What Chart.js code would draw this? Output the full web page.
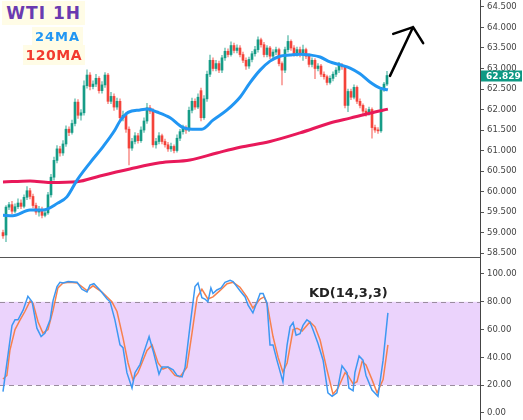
<!DOCTYPE html>
<html>
<head>
<meta charset="utf-8">
<script src="https://cdn.jsdelivr.net/npm/chart.js@4.4.0/dist/chart.umd.min.js"></script>
<style>
  html, body { margin: 0; padding: 0; background: #fff; }
  #wrap { position: relative; width: 523px; height: 420px; overflow: hidden; font-family: 'DejaVu Sans', sans-serif; }
  #top { position: absolute; left: 0; top: 0; width: 523px; height: 258px; }
  #bottom { position: absolute; left: 0; top: 258px; width: 523px; height: 162px; }
  .tag { position: absolute; background: #FFFCE6; font-weight: bold; white-space: nowrap; }
  #t1 { right: 438px; top: 1px; padding: 2px 4px; font-size: 17px; line-height: 20px; letter-spacing: 1px; color: #6A3AB0; }
  #t2 { right: 440px; top: 27px; padding: 2px 3px; font-size: 13px; line-height: 15px; letter-spacing: 1px; color: #2196F3; }
  #t3 { right: 438px; top: 45px; padding: 2px 3px; font-size: 14px; line-height: 16px; letter-spacing: 0.5px; color: #F23B2E; }
  #kd { position: absolute; left: 309px; top: 286px; font-size: 13px; line-height: 13px; font-weight: bold; color: #222; }
</style>
</head>
<body>
<div id="wrap">
  <div id="top"><canvas id="price"></canvas></div>
  <div id="bottom"><canvas id="osc"></canvas></div>
  <div class="tag" id="t1">WTI 1H</div>
  <div class="tag" id="t2">24MA</div>
  <div class="tag" id="t3">120MA</div>
  <div id="kd">KD(14,3,3)</div>
</div>
<script>
// hourly candles (index 0 = first bar)
const opens = [
  59.00, 58.94, 59.62, 59.68, 59.52, 59.63, 59.72, 59.64, 59.86, 60.02,
  59.88, 59.66, 59.50, 59.56, 59.42, 59.48, 59.92, 60.35, 60.76, 61.04,
  60.94, 61.16, 61.52, 61.44, 61.66, 62.18, 61.86, 61.92, 62.58, 62.84,
  62.56, 62.62, 62.76, 62.46, 62.60, 62.84, 62.20, 62.32, 62.06, 62.20,
  61.80, 61.86, 61.52, 61.06, 61.22, 61.36, 61.24, 61.50, 61.72, 62.04,
  61.96, 61.14, 61.22, 61.36, 61.22, 61.14, 61.04, 61.10, 61.00, 61.30,
  61.46, 61.56, 61.50, 61.98, 62.20, 62.06, 62.46, 61.80, 62.26, 62.86,
  63.20, 63.00, 63.12, 62.96, 63.26, 63.42, 63.34, 63.56, 63.44, 63.50,
  63.34, 63.20, 63.06, 63.22, 63.36, 63.46, 63.70, 63.58, 63.34, 63.50,
  63.30, 63.40, 63.46, 63.12, 62.96, 63.46, 63.66, 63.50, 63.36, 63.46,
  63.34, 63.46, 63.30, 63.10, 63.20, 63.00, 63.06, 62.86, 62.80, 62.66,
  62.76, 62.86, 62.96, 63.08, 63.04, 62.10, 62.44, 62.30, 62.54, 62.20,
  62.10, 61.96, 61.90, 62.00, 61.56, 61.50, 61.48, 62.48, 62.62
];
const highs = [
  59.06, 59.66, 59.74, 59.76, 59.70, 59.82, 59.80, 59.92, 60.12, 60.08,
  59.94, 59.72, 59.64, 59.62, 59.56, 59.98, 60.42, 60.84, 61.12, 61.10,
  61.24, 61.60, 61.58, 61.74, 62.26, 62.24, 62.00, 62.70, 62.97, 62.90,
  62.70, 62.86, 62.80, 62.68, 62.90, 62.88, 62.42, 62.38, 62.28, 62.26,
  61.96, 61.92, 61.58, 61.30, 61.44, 61.42, 61.58, 61.80, 62.15, 62.10,
  62.02, 61.30, 61.44, 61.40, 61.28, 61.20, 61.18, 61.14, 61.38, 61.52,
  61.62, 61.60, 62.06, 62.28, 62.26, 62.38, 62.52, 62.34, 62.94, 63.33,
  63.26, 63.20, 63.18, 63.32, 63.50, 63.48, 63.65, 63.62, 63.58, 63.56,
  63.40, 63.26, 63.28, 63.42, 63.54, 63.77, 63.74, 63.64, 63.56, 63.54,
  63.46, 63.52, 63.50, 63.16, 63.52, 63.80, 63.70, 63.56, 63.52, 63.52,
  63.57, 63.50, 63.36, 63.26, 63.24, 63.12, 63.10, 62.92, 62.84, 62.82,
  62.92, 63.02, 63.15, 63.12, 63.08, 62.50, 62.50, 62.60, 62.58, 62.26,
  62.14, 62.02, 62.06, 62.04, 61.62, 61.56, 62.52, 62.66, 62.93
];
const lows = [
  58.86, 58.78, 59.56, 59.46, 59.48, 59.58, 59.58, 59.60, 59.80, 59.82,
  59.60, 59.44, 59.40, 59.36, 59.38, 59.44, 59.86, 60.28, 60.70, 60.86,
  60.88, 61.10, 61.36, 61.40, 61.60, 61.78, 61.74, 61.86, 62.52, 62.48,
  62.50, 62.56, 62.40, 62.40, 62.54, 62.14, 62.14, 61.98, 62.00, 61.74,
  61.72, 61.44, 60.65, 61.00, 61.16, 61.18, 61.20, 61.44, 61.66, 61.90,
  61.08, 61.06, 61.16, 61.16, 61.08, 60.98, 60.98, 60.94, 60.96, 61.24,
  61.40, 61.42, 61.46, 61.92, 62.00, 62.02, 61.72, 61.76, 62.20, 62.80,
  62.94, 62.94, 62.90, 62.90, 63.20, 63.28, 63.30, 63.38, 63.38, 63.28,
  63.14, 62.98, 63.00, 63.16, 63.30, 63.40, 63.52, 63.28, 63.28, 63.24,
  63.24, 63.34, 63.06, 62.60, 62.90, 63.40, 63.44, 63.30, 63.30, 63.28,
  63.20, 63.24, 63.04, 63.04, 62.75, 62.94, 62.80, 62.74, 62.60, 62.62,
  62.70, 62.80, 62.90, 62.98, 62.04, 61.95, 62.24, 62.26, 62.14, 62.04,
  61.85, 61.84, 61.86, 61.30, 61.44, 61.42, 61.44, 62.44, 62.58
];
const closes = [
  58.92, 59.62, 59.68, 59.52, 59.63, 59.72, 59.64, 59.86, 60.02, 59.88,
  59.66, 59.50, 59.56, 59.42, 59.48, 59.92, 60.35, 60.76, 61.04, 60.94,
  61.16, 61.52, 61.44, 61.66, 62.18, 61.86, 61.92, 62.58, 62.84, 62.56,
  62.62, 62.76, 62.46, 62.60, 62.84, 62.20, 62.32, 62.06, 62.20, 61.80,
  61.86, 61.52, 61.06, 61.22, 61.36, 61.24, 61.50, 61.72, 62.04, 61.96,
  61.14, 61.22, 61.36, 61.22, 61.14, 61.04, 61.10, 61.00, 61.30, 61.46,
  61.56, 61.50, 61.98, 62.20, 62.06, 62.30, 61.80, 62.26, 62.86, 63.20,
  63.00, 63.12, 62.96, 63.26, 63.42, 63.34, 63.56, 63.44, 63.50, 63.34,
  63.20, 63.06, 63.22, 63.36, 63.46, 63.70, 63.58, 63.34, 63.50, 63.30,
  63.40, 63.46, 63.12, 62.96, 63.46, 63.66, 63.50, 63.36, 63.46, 63.34,
  63.46, 63.30, 63.10, 63.20, 63.00, 63.06, 62.86, 62.80, 62.66, 62.76,
  62.86, 62.96, 63.08, 63.04, 62.10, 62.44, 62.30, 62.54, 62.20, 62.10,
  61.96, 61.90, 62.00, 61.56, 61.50, 61.48, 62.48, 62.62, 62.829
];

// moving averages, sampled at bar positions
const ma24X = [0, 3.3, 9, 13.3, 18.3, 21.3, 24.7, 29, 33.3, 37.3, 39, 41.7, 45.7, 48.3, 51.3, 55.7,
  59.7, 63, 66.3, 70, 74.7, 79, 82.3, 85.7, 89, 92.3, 95.7, 99, 102.3, 105.7, 109, 112.3, 115.7,
  119, 122.3, 125.7, 128.3];
const ma24Y = [59.42, 59.41, 59.55, 59.55, 59.72, 59.87, 60.28, 60.70, 61.09, 61.50, 61.72, 61.93,
  61.99, 62.01, 61.94, 61.80, 61.57, 61.52, 61.52, 61.74, 61.99, 62.30, 62.65, 62.96, 63.18, 63.30,
  63.33, 63.35, 63.33, 63.28, 63.16, 63.09, 63.01, 62.87, 62.67, 62.52, 62.48];
const ma120X = [0, 9, 15.7, 24.7, 32.3, 42.3, 52.3, 62.3, 71.3, 79, 89, 99, 109, 115.7, 122.3, 128.3];
const ma120Y = [60.23, 60.26, 60.22, 60.24, 60.38, 60.55, 60.70, 60.77, 60.94, 61.08, 61.22, 61.43,
  61.67, 61.79, 61.91, 62.01];

// stochastic K and D
const kX = [0, 3, 4, 5, 6.7, 8.3, 9.7, 11.3, 12.7, 14, 15.7, 16.7, 18, 19, 20, 21.7, 24.7, 26.3, 28,
  29, 30.3, 32.3, 34.7, 35.7, 37.3, 39, 40, 41.3, 43, 44, 45.7, 46.7, 48.7, 50, 52, 53, 55, 56.7,
  58, 59.7, 60.7, 62.3, 64, 65, 66.3, 67.3, 68.3, 69.3, 70, 71.3, 72.7, 74, 75.7, 76.7, 79, 80.7,
  81.7, 83.3, 85.7, 86.7, 88, 89, 90, 91.3, 93.3, 94.7, 95.7, 96.7, 97.7, 99, 100, 101.3, 102.3,
  103.3, 105, 106.7, 108.3, 109.7, 111.3, 113, 114.7, 115.3, 116.7, 117.3, 118.7, 120, 121, 123,
  125, 126.7, 128.3];
const kY = [15.3, 63, 67, 67, 74, 84, 80, 61, 55, 57.5, 67, 81, 91, 94, 93.5, 94.5, 94, 89, 87,
  92, 93, 88.5, 82, 80, 67, 49, 47, 29, 18, 29, 35, 42, 55, 45, 28, 33, 33, 31,
  27, 26, 33, 62, 91, 93.5, 83, 82, 80, 90, 86, 88.5, 90, 94, 95.5, 94.5, 88, 83.5,
  77.5, 72, 86, 86, 79, 49, 49, 38, 22.5, 49, 62, 65, 56, 57, 63, 67, 65.5,
  60, 50, 38, 14.5, 12, 14.5, 34, 29, 18, 16, 29, 41, 38, 27, 16.5,
  12, 38, 72];
const dX = [0, 1.3, 2.3, 4, 5.7, 7.3, 9, 10, 11.7, 13.3, 15, 16.7, 18.3, 20, 22.3, 24.7, 28, 30, 33,
  36.3, 38, 40, 41.7, 43.3, 45, 48, 49.7, 51.7, 53.3, 55, 57.3, 59, 61.3, 63, 64.7, 66.3, 68.3, 70,
  72.3, 74.7, 76.7, 79, 81.3, 83.3, 85.7, 87, 88, 90, 91.7, 93.3, 94.7, 96.7, 98, 99.7, 102.3, 104,
  105.7, 108, 110, 111.7, 114, 115, 116.7, 118, 119.7, 121, 123, 124.7, 126.7, 128.3];
const dY = [24.5, 27, 45, 60, 67, 73, 80.5, 79, 65.5, 57.5, 60, 74, 90, 93.5, 94, 93.5, 88, 91.5, 87,
  80, 73, 54, 36, 24, 29, 45, 49, 36, 31.5, 33, 27, 26, 33, 57.5, 83, 89, 82, 83.5,
  88, 93, 94, 90.5, 83.5, 75.5, 82, 83.5, 79, 55, 40, 29.5, 36, 60, 61, 59, 65.5, 62,
  52.5, 31, 13.5, 18, 29, 27, 21, 22.5, 37, 34.5, 24, 14.5, 24, 49];

const PRICE_TICKS = [58.5, 59, 59.5, 60, 60.5, 61, 61.5, 62, 62.5, 63, 63.5, 64, 64.5];
const KD_TICKS = [0, 20, 40, 60, 80, 100];
const KD_BAND = [20, 80];
// projected move: tail and tip in (bar, price)
const ARROW = { from: [129, 62.82], to: [136.7, 64.01] };

const UP = '#169C87', DOWN = '#F4433A';
const UP_WICK = 'rgba(22,156,135,0.55)', DOWN_WICK = 'rgba(244,67,58,0.55)';
const AXIS = '#444';

const isUp = closes.map((c, i) => c >= opens[i]);
const pts = (xs, ys) => xs.map((x, i) => ({ x, y: ys[i] }));

function rightAxis(min, max, ticks, digits) {
  return {
    position: 'right',
    min, max,
    beginAtZero: false,
    afterBuildTicks: s => { s.ticks = ticks.map(v => ({ value: v })); },
    afterFit: s => {
      s.width = 43;
      // let the edge labels hang over, as in the screenshot
      s.paddingTop = 0;
      s.paddingBottom = 0;
    },
    ticks: {
      color: AXIS, padding: 3, font: { family: 'DejaVu Sans', size: 8.5 },
      callback: v => Number(v).toFixed(digits),
    },
    grid: { display: true, drawOnChartArea: false, drawTicks: true, tickLength: 4, color: '#555' },
    border: { display: true, color: AXIS, width: 1 },
  };
}

const xAxis = { type: 'linear', min: -1, max: 159, display: false, offset: false };

const separator = {
  id: 'separator',
  afterDraw(chart) {
    const { ctx, chartArea } = chart;
    ctx.save();
    ctx.strokeStyle = '#555';
    ctx.lineWidth = 1;
    ctx.beginPath();
    ctx.moveTo(0, chartArea.bottom - 0.5);
    ctx.lineTo(chartArea.right, chartArea.bottom - 0.5);
    ctx.stroke();
    ctx.restore();
  },
};

const arrow = {
  id: 'arrow',
  afterDatasetsDraw(chart) {
    const { ctx, scales: { x, y } } = chart;
    const x0 = x.getPixelForValue(ARROW.from[0]), y0 = y.getPixelForValue(ARROW.from[1]);
    const x1 = x.getPixelForValue(ARROW.to[0]), y1 = y.getPixelForValue(ARROW.to[1]);
    const back = Math.atan2(y0 - y1, x0 - x1);
    ctx.save();
    ctx.strokeStyle = '#000';
    ctx.lineWidth = 2.5;
    ctx.lineCap = 'round';
    ctx.lineJoin = 'round';
    ctx.beginPath();
    ctx.moveTo(x0, y0);
    ctx.lineTo(x1, y1);
    ctx.moveTo(x1 + 21 * Math.cos(back + 0.8), y1 + 21 * Math.sin(back + 0.8));
    ctx.lineTo(x1, y1);
    ctx.lineTo(x1 + 19 * Math.cos(back - 1.0), y1 + 19 * Math.sin(back - 1.0));
    ctx.stroke();
    ctx.restore();
  },
};

const priceTag = {
  id: 'priceTag',
  afterDraw(chart) {
    const { ctx, chartArea, scales: { y } } = chart;
    const last = closes[closes.length - 1];
    const py = Math.round(y.getPixelForValue(last));
    ctx.save();
    ctx.fillStyle = '#0E9984';
    ctx.fillRect(chartArea.right + 1, py - 5.5, 41, 11);
    ctx.fillStyle = '#fff';
    ctx.font = 'bold 9px "DejaVu Sans"';
    ctx.textBaseline = 'middle';
    ctx.fillText(last.toFixed(3), chartArea.right + 6, py + 0.5);
    ctx.restore();
  },
};

new Chart(document.getElementById('price'), {
  type: 'bar',
  data: {
    datasets: [
      {
        type: 'line', label: '24MA', data: pts(ma24X, ma24Y),
        borderColor: '#2196F3', borderWidth: 3, pointRadius: 0,
        cubicInterpolationMode: 'monotone', order: 0,
      },
      {
        type: 'line', label: '120MA', data: pts(ma120X, ma120Y),
        borderColor: '#E8195A', borderWidth: 3, pointRadius: 0,
        cubicInterpolationMode: 'monotone', order: 1,
      },
      {
        label: 'body', data: closes.map((c, i) => ({ x: i, y: [opens[i], c] })),
        backgroundColor: isUp.map(u => u ? UP : DOWN),
        barThickness: 2, minBarLength: 1, grouped: false, borderWidth: 0, order: 2,
      },
      {
        label: 'wick', data: closes.map((c, i) => ({ x: i, y: [lows[i], highs[i]] })),
        backgroundColor: isUp.map(u => u ? UP_WICK : DOWN_WICK),
        barThickness: 1, grouped: false, borderWidth: 0, order: 3,
      },
    ],
  },
  options: {
    responsive: true,
    maintainAspectRatio: false,
    animation: false,
    layout: { padding: 0 },
    plugins: { legend: { display: false }, tooltip: { enabled: false } },
    scales: { x: xAxis, y: rightAxis(58.38, 64.67, PRICE_TICKS, 3) },
  },
  plugins: [separator, arrow, priceTag],
});

const band = {
  id: 'band',
  beforeDatasetsDraw(chart) {
    const { ctx, chartArea, scales: { y } } = chart;
    const top = y.getPixelForValue(KD_BAND[1]);
    const bot = y.getPixelForValue(KD_BAND[0]);
    ctx.save();
    ctx.fillStyle = '#EBD3FC';
    ctx.fillRect(chartArea.left, top, chartArea.right - chartArea.left, bot - top);
    ctx.strokeStyle = '#9A8C9E';
    ctx.lineWidth = 1;
    ctx.setLineDash([5, 4]);
    [top, bot].forEach(py => {
      ctx.beginPath();
      ctx.moveTo(chartArea.left, Math.round(py) + 0.5);
      ctx.lineTo(chartArea.right, Math.round(py) + 0.5);
      ctx.stroke();
    });
    ctx.restore();
  },
};

new Chart(document.getElementById('osc'), {
  type: 'line',
  data: {
    datasets: [
      { label: 'K', data: pts(kX, kY), borderColor: '#3D98F2', borderWidth: 1.5, pointRadius: 0, tension: 0 },
      { label: 'D', data: pts(dX, dY), borderColor: '#F7804D', borderWidth: 1.5, pointRadius: 0, tension: 0 },
    ],
  },
  options: {
    responsive: true,
    maintainAspectRatio: false,
    animation: false,
    layout: { padding: 0 },
    plugins: { legend: { display: false }, tooltip: { enabled: false } },
    scales: { x: xAxis, y: rightAxis(-5.04, 111.5, KD_TICKS, 2) },
  },
  plugins: [band],
});
</script>
</body>
</html>
